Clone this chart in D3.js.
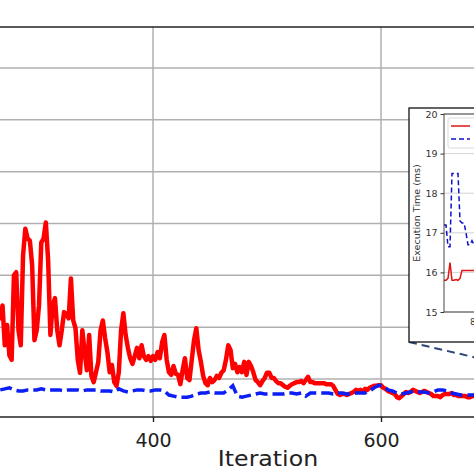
<!DOCTYPE html>
<html>
<head>
<meta charset="utf-8">
<script src="https://cdn.jsdelivr.net/npm/d3@7"></script>
<style>
body { margin:0; background:#fff; }
svg { display:block; font-family:"DejaVu Sans", sans-serif; }
</style>
</head>
<body>
<div id="chart"></div>
<script>
var W = 474, H = 474;

// main series, one value every 2 (red) / 4 (blue) iterations, starting at iteration 266
var iterStart = 266;
var redTime = [31.3, 34.2, 26.5, 30.4, 24.6, 23.7, 40.0, 40.6, 29.4, 26.5,
 43.8, 49.0, 47.1, 46.7, 41.9, 27.5, 29.4, 34.2, 46.3, 47.1,
 50.2, 42.9, 28.5, 34.2, 35.6, 29.4, 26.5, 29.4, 32.9, 32.5,
 31.7, 39.4, 31.3, 29.8, 23.7, 21.2, 29.4, 25.2, 21.7, 28.5,
 20.6, 19.4, 21.3, 23.3, 29.4, 31.3, 27.9, 25.2, 21.3, 22.7,
 19.4, 18.7, 21.3, 29.4, 32.7, 28.5, 26.0, 24.0, 22.9, 24.4,
 26.0, 24.0, 26.5, 24.4, 23.7, 24.4, 23.5, 24.4, 23.7, 25.2,
 24.0, 27.1, 28.5, 23.7, 21.3, 20.8, 22.5, 21.0, 20.8, 19.0,
 21.7, 24.0, 20.2, 19.8, 23.7, 27.5, 29.8, 25.6, 23.3, 20.6,
 19.2, 18.8, 20.2, 19.4, 19.8, 20.6, 20.2, 21.2, 21.7, 23.7,
 26.5, 25.6, 22.1, 22.9, 21.3, 22.3, 21.3, 23.3, 20.8, 23.3,
 22.5, 21.3, 19.8, 19.4, 18.8, 19.6, 20.2, 21.2, 21.2, 20.2,
 20.2, 19.6, 19.2, 19.2, 18.8, 18.5, 18.3, 18.7, 19.0, 19.2,
 19.4, 19.4, 19.6, 19.2, 19.8, 20.4, 19.4, 19.4, 19.2, 19.2,
 19.2, 19.2, 19.2, 19.0, 19.0, 19.0, 18.7, 17.9, 17.1, 16.9,
 17.1, 17.1, 16.9, 17.1, 17.3, 17.5, 17.9, 17.7, 17.9, 17.5,
 18.1, 17.9, 18.3, 18.5, 18.7, 18.7, 18.8, 18.8, 18.3, 18.1,
 17.7, 17.5, 17.3, 17.1, 16.5, 16.3, 16.7, 17.1, 17.5, 17.3,
 17.5, 17.9, 17.7, 17.5, 17.3, 17.5, 17.7, 17.5, 17.3, 17.1,
 16.7, 16.7, 16.7, 16.5, 16.9, 17.1, 17.1, 17.1, 17.3, 16.9,
 16.9, 16.7, 16.7, 16.7, 16.7, 16.5, 16.5, 16.7, 16.7];
var blueTime = [17.9, 18.1, 18.3, 17.9, 17.7, 17.7, 17.9, 17.9, 17.9, 18.1,
 17.9, 17.9, 17.9, 17.9, 17.7, 17.9, 17.9, 17.9, 17.7, 17.9,
 17.9, 17.9, 17.7, 17.7, 17.7, 17.5, 18.1, 17.7, 17.5, 17.7,
 17.9, 17.9, 17.7, 17.7, 17.9, 17.9, 17.7, 16.9, 16.7, 16.5,
 16.5, 16.5, 16.7, 17.1, 17.3, 17.3, 17.5, 17.3, 17.3, 17.3,
 17.9, 18.7, 16.7, 16.5, 16.7, 16.9, 17.1, 17.3, 17.1, 17.1,
 17.1, 17.1, 17.1, 17.3, 17.3, 17.1, 17.3, 16.7, 17.3, 17.3,
 17.3, 17.3, 17.3, 17.1, 17.3, 17.3, 17.1, 17.1, 17.3, 17.3,
 17.3, 17.7, 18.3, 18.8, 18.7, 17.9, 17.7, 17.3, 17.1, 17.3,
 17.5, 17.7, 17.5, 17.5, 17.3, 17.5, 17.9, 17.9, 17.7, 17.3,
 17.1, 16.9, 16.9, 16.9, 16.9];
var xGrid = [200, 400, 600, 800];
var xTicks = [400, 600];
var yTicks = [20, 30, 40, 50, 60, 70, 80];

// inset, one value per iteration from 783
var insetStart = 783;
var insetRed = [15.8, 15.8, 15.85, 16.25, 15.8, 15.8, 15.82, 15.8, 15.85, 16.05,
 16.05, 16.05, 16.05, 16.05, 16.05, 16.05, 16.05, 16.05];
var insetBlue = [17.2, 17.2, 16.65, 16.65, 18.5, 18.5, 18.5, 18.5, 17.3, 17.25,
 17.25, 17.0, 16.7, 16.7, 16.8, 16.7, 16.7, 16.8];
var insetYTicks = [15, 16, 17, 18, 19, 20];
var insetXTicks = [800];

var plotTop = 27, plotBottom = 417;

var svg = d3.select("#chart").append("svg").attr("width", W).attr("height", H);

var x = d3.scaleLinear().domain([400, 600]).range([153, 381]);
var y = d3.scaleLinear().domain([20, 80]).range([379, 68]);

svg.append("defs").append("clipPath").attr("id", "plotclip")
   .append("rect").attr("x", -10).attr("y", plotTop).attr("width", W + 20).attr("height", plotBottom - plotTop);

// grid
svg.selectAll("line.vgrid").data(xGrid).enter().append("line").attr("class", "vgrid")
   .attr("x1", function(d){ return x(d); }).attr("x2", function(d){ return x(d); })
   .attr("y1", plotTop).attr("y2", plotBottom)
   .attr("stroke", "#b0b0b0").attr("stroke-width", 1.5);
svg.selectAll("line.hgrid").data(yTicks).enter().append("line").attr("class", "hgrid")
   .attr("x1", -10).attr("x2", W + 10)
   .attr("y1", function(d){ return y(d); }).attr("y2", function(d){ return y(d); })
   .attr("stroke", "#b0b0b0").attr("stroke-width", 1.5);

// frame
svg.append("line").attr("x1", -10).attr("x2", W + 10).attr("y1", plotTop).attr("y2", plotTop)
   .attr("stroke", "#222").attr("stroke-width", 1.6);
svg.append("line").attr("x1", -10).attr("x2", W + 10).attr("y1", plotBottom).attr("y2", plotBottom)
   .attr("stroke", "#222").attr("stroke-width", 1.6);

var xAxis = svg.append("g").attr("transform", "translate(0," + plotBottom + ")")
   .call(d3.axisBottom(x).tickValues(xTicks).tickSize(5).tickPadding(12).tickFormat(d3.format("d")));
xAxis.select(".domain").remove();
xAxis.selectAll("line").attr("stroke", "#222").attr("stroke-width", 1.4);
xAxis.selectAll("text").attr("font-size", 19).attr("fill", "#222")
   .attr("font-family", "DejaVu Sans, sans-serif");

svg.append("text").attr("transform", "translate(268,466) scale(1.1,1)")
   .attr("text-anchor", "middle").attr("font-size", 21.5).attr("fill", "#222").text("Iteration");

// lines
var line = d3.line().x(function(d){ return x(d[0]); }).y(function(d){ return y(d[1]); });
var redPts = redTime.map(function(v, i){ return [iterStart + 2 * i, v]; });
var bluePts = blueTime.map(function(v, i){ return [iterStart + 4 * i, v]; });

var lines = svg.append("g").attr("clip-path", "url(#plotclip)");
lines.append("path").datum(redPts).attr("d", line)
   .attr("fill", "none").attr("stroke", "#ff0000").attr("stroke-width", 4.5).attr("stroke-linejoin", "round");
lines.append("path").datum(bluePts).attr("d", line)
   .attr("fill", "none").attr("stroke", "#0a1ef5").attr("stroke-width", 3.5).attr("stroke-dasharray", "12,5");

// connector from inset to zoomed region
svg.append("line").attr("x1", 409).attr("y1", 342).attr("x2", x(783)).attr("y2", y(19))
   .attr("stroke", "#2c4677").attr("stroke-width", 2).attr("stroke-dasharray", "8,5");

// inset
var ix = d3.scaleLinear().domain([783, 860]).range([444, 598]);
var iy = d3.scaleLinear().domain([15, 20]).range([312, 114]);
var inset = svg.append("g");
inset.append("rect").attr("x", 409).attr("y", 108).attr("width", 220).attr("height", 234)
   .attr("fill", "#fff").attr("stroke", "#111").attr("stroke-width", 1.3);
svg.select("defs").append("clipPath").attr("id", "insetclip")
   .append("rect").attr("x", 444).attr("y", 114).attr("width", 154).attr("height", 198);

inset.selectAll("line.igrid").data(insetYTicks).enter().append("line").attr("class", "igrid")
   .attr("x1", 444).attr("x2", 598)
   .attr("y1", function(d){ return iy(d); }).attr("y2", function(d){ return iy(d); })
   .attr("stroke", "#c8c8c8").attr("stroke-width", 0.8);

var iline = d3.line().x(function(d){ return ix(d[0]); }).y(function(d){ return iy(d[1]); });
var ilines = inset.append("g").attr("clip-path", "url(#insetclip)");
ilines.append("path").datum(insetRed.map(function(v, i){ return [insetStart + i, v]; })).attr("d", iline)
   .attr("fill", "none").attr("stroke", "#e01515").attr("stroke-width", 1.5);
ilines.append("path").datum(insetBlue.map(function(v, i){ return [insetStart + i, v]; })).attr("d", iline)
   .attr("fill", "none").attr("stroke", "#1010c8").attr("stroke-width", 1.5).attr("stroke-dasharray", "5,3");

inset.append("rect").attr("x", 444).attr("y", 114).attr("width", 154).attr("height", 198)
   .attr("fill", "none").attr("stroke", "#333").attr("stroke-width", 0.9);

var iyAxis = inset.append("g").attr("transform", "translate(444,0)")
   .call(d3.axisLeft(iy).tickValues(insetYTicks).tickSize(3.5).tickPadding(3).tickFormat(d3.format("d")));
iyAxis.select(".domain").remove();
iyAxis.selectAll("text").attr("font-size", 9.5).attr("fill", "#333").attr("font-family", "DejaVu Sans, sans-serif");
iyAxis.selectAll("line").attr("stroke", "#333");

var ixAxis = inset.append("g").attr("transform", "translate(0,312)")
   .call(d3.axisBottom(ix).tickValues(insetXTicks).tickSize(3.5).tickPadding(3).tickFormat(d3.format("d")));
ixAxis.select(".domain").remove();
ixAxis.selectAll("text").attr("font-size", 9).attr("fill", "#333").attr("font-family", "DejaVu Sans, sans-serif");
ixAxis.selectAll("line").attr("stroke", "#333");

inset.append("text").attr("transform", "translate(420,213) rotate(-90)")
   .attr("text-anchor", "middle").attr("font-size", 9.5).attr("fill", "#333").text("Execution Time (ms)");

// inset legend
inset.append("rect").attr("x", 448).attr("y", 118).attr("width", 90).attr("height", 30).attr("rx", 2)
   .attr("fill", "#fff").attr("stroke", "#d0d0d0").attr("stroke-width", 0.8);
inset.append("line").attr("x1", 451).attr("x2", 470).attr("y1", 126).attr("y2", 126)
   .attr("stroke", "#e01515").attr("stroke-width", 1.5);
inset.append("line").attr("x1", 451).attr("x2", 470).attr("y1", 139).attr("y2", 139)
   .attr("stroke", "#1010c8").attr("stroke-width", 1.5).attr("stroke-dasharray", "5,3");
</script>
</body>
</html>
